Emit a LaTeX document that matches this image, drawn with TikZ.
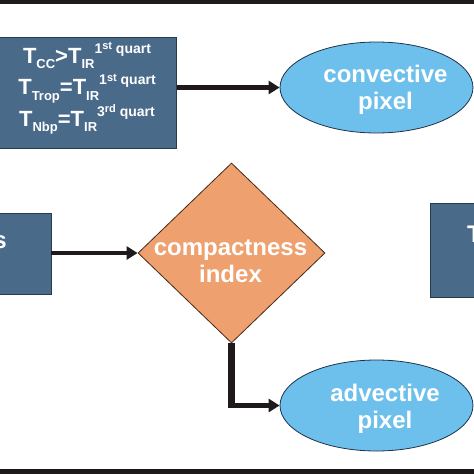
\documentclass[tikz,border=0pt]{standalone}
\usepackage{fontspec}
\setmainfont{Liberation Sans}
\usetikzlibrary{shapes.geometric,arrows.meta}

\definecolor{boxblue}{RGB}{74,106,138}
\definecolor{boxedge}{RGB}{40,58,78}
\definecolor{ellblue}{RGB}{110,192,236}
\definecolor{elledge}{RGB}{30,50,75}
\definecolor{cmporange}{RGB}{238,160,110}
\definecolor{cmpedge}{RGB}{70,40,25}
\definecolor{arrowblack}{RGB}{30,26,27}

\newcommand{\Tline}[4]{T\raisebox{-5.5pt}{\fontsize{13}{13}\selectfont #1}#2T\raisebox{-5.5pt}{\fontsize{13}{13}\selectfont IR}\raisebox{10pt}{\fontsize{14}{14}\selectfont #3\raisebox{3.5pt}{\fontsize{11}{11}\selectfont #4} quart}}

\tikzset{
	bluebox/.style={rectangle, draw=boxedge, fill=boxblue, line width=0.8pt, inner sep=0pt},
	pixelnode/.style={ellipse, draw=elledge, fill=ellblue, line width=0.8pt,
		minimum width=193pt, minimum height=91pt, inner sep=0pt},
	decision/.style={diamond, draw=cmpedge, fill=cmporange, line width=0.8pt,
		minimum width=187pt, minimum height=180pt, inner sep=0pt},
	whitetext/.style={text=white, inner sep=0pt, align=center,
		font=\bfseries\fontsize{24}{27}\selectfont},
	conn/.style={draw=arrowblack, line width=4.5pt, -{Triangle[length=11pt,width=13pt]}}
}

\begin{document}
\begin{tikzpicture}[x=1pt,y=-1pt]
	\useasboundingbox (0,0) rectangle (474,474);
	\clip (0,0) rectangle (474,474);
	
	% borders
	\fill[arrowblack] (0,0) rectangle (474,4);
	\fill[arrowblack] (0,469) rectangle (474,474);
	
	% criteria box
	\node[bluebox, minimum width=177pt, minimum height=111pt] (crit) at (88,92.5) {};
	\node[whitetext, font=\bfseries\fontsize{22}{31.5}\selectfont] (critText) at (87,88.5)
		{\Tline{CC}{>}{1}{st}\\ \Tline{Trop}{=}{1}{st}\\ \Tline{Nbp}{=}{3}{rd}};
	
	% side boxes
	\node[bluebox, minimum width=61pt, minimum height=81pt] (src) at (20.5,253.5) {};
	\node[whitetext, anchor=base east] (srcText) at (7,248) {s};
	\node[bluebox, minimum width=60pt, minimum height=94pt] (dst) at (460,250) {};
	\node[whitetext, anchor=base west] (dstText) at (467,242) {T};
	
	% decision
	\node[decision] (cmp) at (231.5,253) {};
	\node[whitetext] (cmpText) at (230.5,261) {compactness\\index};
	
	% outputs
	\node[pixelnode] (conv) at (376.5,87.5) {};
	\node[whitetext] (convText) at (385.5,89.5) {convective\\pixel};
	\node[pixelnode] (adv) at (376.5,405.5) {};
	\node[whitetext] (advText) at (385,408.5) {advective\\pixel};
	
	% connectors
	\draw[conn] (crit.east |- conv.west) -- (conv.west);
	\draw[conn] (src.east |- cmp.west) -- (cmp.west);
	\coordinate (bend) at (cmp.south |- adv.west);
	\draw[draw=arrowblack, line width=7.5pt] (cmp.south) -- ([yshift=-2pt]bend);
	\draw[conn] (bend) -- (adv.west);
\end{tikzpicture}
\end{document}
